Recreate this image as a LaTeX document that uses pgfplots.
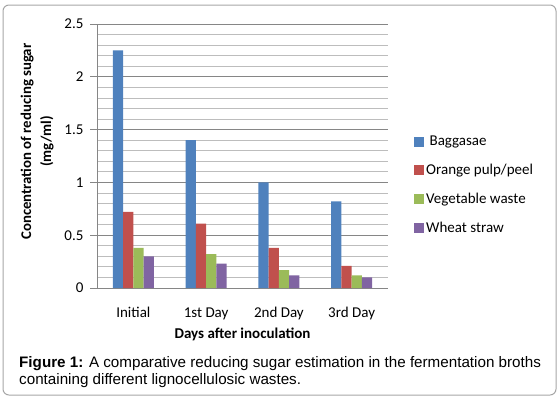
\documentclass[border=0pt]{standalone}
\usepackage{pgfplots}
\pgfplotsset{compat=1.18}
\usepackage{fontspec}
\setmainfont{Carlito}
\newfontfamily\arial{Liberation Sans}

\definecolor{cBlue}{HTML}{4F81BD}
\definecolor{cRed}{HTML}{C0504D}
\definecolor{cGreen}{HTML}{9BBB59}
\definecolor{cPurple}{HTML}{8064A2}
\definecolor{majgrid}{HTML}{868686}
\definecolor{mingrid}{HTML}{BDBDBD}
\definecolor{frame}{HTML}{A6A6A6}

\begin{document}
\begin{tikzpicture}
\path[use as bounding box] (0,0) rectangle (559pt,-400pt);
\draw[frame, line width=1pt, rounded corners=6pt] (3pt,-5pt) rectangle (556pt,-395pt);

\begin{axis}[
  at={(97pt,-288pt)}, anchor=south west,
  scale only axis,
  width=291pt, height=264pt,
  ybar=0pt, bar width=10.3pt,
  xmin=-0.5, xmax=3.5,
  ymin=0, ymax=2.5,
  xtick={0,1,2,3},
  xticklabels={Initial,1st Day,2nd Day,3rd Day},
  ytick={0,0.5,1,1.5,2,2.5},
  minor y tick num=4,
  ymajorgrids, yminorgrids,
  major grid style={majgrid, line width=0.8pt},
  minor grid style={mingrid, line width=0.8pt},
  axis lines*=left,
  axis line style={majgrid, line width=0.8pt},
  tick align=outside,
  major tick length=7pt,
  minor tick length=0pt,
  major x tick style={draw=none},
  major y tick style={majgrid, line width=0.8pt},
  tick label style={font=\fontsize{15}{17}\selectfont},
  /pgf/number format/assume math mode=true,
  xticklabel style={anchor=base, yshift=-22pt},
  yticklabel style={anchor=east, xshift=-3pt},
  xlabel={Days after inoculation},
  xlabel style={font=\fontsize{15}{17}\selectfont\bfseries, at={(axis description cs:0.5,-0.175)}, anchor=center},
  ylabel={Concentration of reducing sugar\\(mg/ml)},
  ylabel style={font=\fontsize{14.8}{20}\selectfont\bfseries, align=center, at={(axis description cs:-0.206,0.555)}, anchor=center},
  legend style={draw=none, fill=none, at={(1,0.39)}, anchor=west, xshift=26pt,
    font=\fontsize{15}{17}\selectfont, row sep=13pt, inner sep=0pt},
  legend cell align=left,
  legend image code/.code={\fill[#1] (0pt,-5pt) rectangle (10pt,5pt);},
  clip=false,
]
\addplot[fill=cBlue, draw=none] coordinates {(0,2.25) (1,1.40) (2,1.00) (3,0.82)};
\addplot[fill=cRed, draw=none] coordinates {(0,0.72) (1,0.61) (2,0.38) (3,0.21)};
\addplot[fill=cGreen, draw=none] coordinates {(0,0.38) (1,0.32) (2,0.17) (3,0.12)};
\addplot[fill=cPurple, draw=none] coordinates {(0,0.30) (1,0.23) (2,0.12) (3,0.10)};
\legend{\ Baggasae, Orange pulp/peel, Vegetable waste, Wheat straw}
\end{axis}

\node[anchor=base west, font=\arial\fontsize{15.2}{17}\selectfont, inner sep=0pt]
  at (19pt,-367pt) {{\bfseries Figure 1:} A comparative reducing sugar estimation in the fermentation broths};
\node[anchor=base west, font=\arial\fontsize{15.2}{17}\selectfont, inner sep=0pt]
  at (19pt,-384pt) {containing different lignocellulosic wastes.};
\end{tikzpicture}
\end{document}
